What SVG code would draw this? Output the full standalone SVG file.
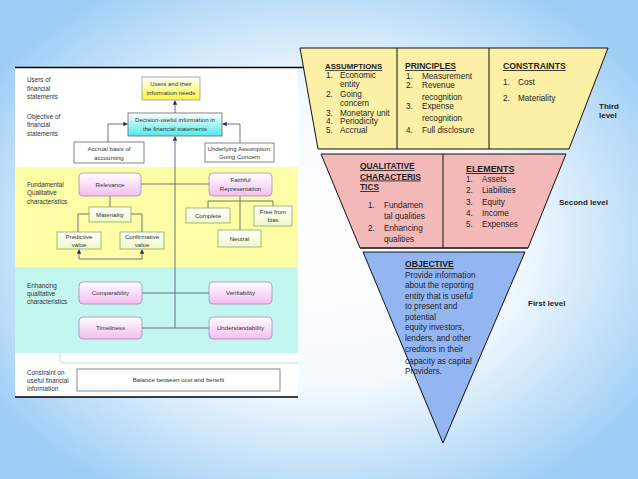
<svg xmlns="http://www.w3.org/2000/svg" width="638" height="479" viewBox="0 0 638 479">
<defs>
<radialGradient id="bg" cx="0.5" cy="0.5" r="0.62">
<stop offset="0" stop-color="#ffffff"/>
<stop offset="0.5" stop-color="#f4fafe"/>
<stop offset="1" stop-color="#9ccdf4"/>
</radialGradient>
<linearGradient id="gYel" x1="0" y1="0" x2="0" y2="1"><stop offset="0" stop-color="#ffffff"/><stop offset="1" stop-color="#f6f640"/></linearGradient>
<linearGradient id="gCyan" x1="0" y1="0" x2="0" y2="1"><stop offset="0" stop-color="#ffffff"/><stop offset="1" stop-color="#4fe9ec"/></linearGradient>
<linearGradient id="gPink" x1="0" y1="0" x2="0" y2="1"><stop offset="0" stop-color="#ffffff"/><stop offset="1" stop-color="#f2bdf0"/></linearGradient>
<linearGradient id="gGreen" x1="0" y1="0" x2="0" y2="1"><stop offset="0" stop-color="#ffffff"/><stop offset="1" stop-color="#f0f8c8"/></linearGradient>
<marker id="ah" viewBox="0 0 8 8" refX="7.5" refY="4" markerWidth="4.5" markerHeight="4.5" orient="auto" markerUnits="userSpaceOnUse">
<path d="M0,0 L8,4 L0,8 z" fill="#2a2a78"/>
</marker>
<style>
.lbl{font-family:"Liberation Sans",Arial,sans-serif;font-size:6.3px;fill:#333}
.bt{font-family:"Liberation Sans",Arial,sans-serif;font-size:6.1px;fill:#333;text-anchor:middle}
.plain{fill:#fff;stroke:#666;stroke-width:0.8}
.pinkb{fill:url(#gPink);stroke:#a98ab8;stroke-width:0.8}
.greenb{fill:url(#gGreen);stroke:#8caa55;stroke-width:0.8}
.con{fill:none;stroke:#4d5070;stroke-width:0.8}
.arr{marker-end:url(#ah)}
.pt{font-family:"Liberation Sans",Arial,sans-serif;font-size:8.2px;fill:#1e1e1e}
.ph{font-family:"Liberation Sans",Arial,sans-serif;font-weight:bold;fill:#1e1e1e;text-decoration:underline}
.lv{font-family:"Liberation Sans",Arial,sans-serif;font-weight:bold;font-size:8px;fill:#1e1e1e}
</style>
</defs>
<rect width="638" height="479" fill="url(#bg)"/>

<!-- Left panel -->
<g id="panel">
<rect x="15" y="67" width="283" height="330" fill="#ffffff"/>
<rect x="15" y="167" width="283" height="100" fill="#fdfda6"/>
<rect x="15" y="267" width="283" height="86" fill="#c2f6ee"/>
<path d="M60,353 L60,360 Q60,363 63,363 L298,363" fill="none" stroke="#c8c8c8" stroke-width="0.8"/>
<line x1="15" y1="67.5" x2="305" y2="67.5" stroke="#000" stroke-width="1.4"/>
<line x1="15" y1="397" x2="298" y2="397" stroke="#000" stroke-width="1.4"/>
<text class="lbl" x="27" y="82">Users of</text>
<text class="lbl" x="27" y="91">financial</text>
<text class="lbl" x="27" y="99">statements</text>
<text class="lbl" x="27" y="119">Objective of</text>
<text class="lbl" x="27" y="127">financial</text>
<text class="lbl" x="27" y="136">statements</text>
<text class="lbl" x="27" y="187">Fundamental</text>
<text class="lbl" x="27" y="195">Qualitative</text>
<text class="lbl" x="27" y="204">characteristics</text>
<text class="lbl" x="27" y="288">Enhancing</text>
<text class="lbl" x="27" y="296">qualitative</text>
<text class="lbl" x="27" y="304">characteristics</text>
<text class="lbl" x="27" y="375">Constraint on</text>
<text class="lbl" x="27" y="383">useful financial</text>
<text class="lbl" x="27" y="391">information</text>
</g>

<g id="connectors">
<line class="con arr" x1="175" y1="113" x2="175" y2="100.5"/>
<polyline class="con arr" points="108,142 108,124 127.5,124"/>
<polyline class="con arr" points="240,143 240,124 222.5,124"/>
<line class="con arr" x1="175" y1="328" x2="175" y2="136.5"/>
<line class="con" x1="141" y1="184" x2="209" y2="184"/>
<line class="con" x1="110" y1="196" x2="110" y2="207"/>
<polyline class="con" points="89,214 78,214 78,232"/>
<polyline class="con" points="131,214 142,214 142,232"/>
<line class="con" x1="79" y1="259" x2="142" y2="259"/>
<line class="con arr" x1="79" y1="259" x2="79" y2="249.5"/>
<line class="con arr" x1="142" y1="259" x2="142" y2="249.5"/>
<line class="con" x1="240" y1="196" x2="240" y2="230"/>
<polyline class="con" points="208,208 208,201 273,201 273,206"/>
<line class="con" x1="142" y1="293" x2="209" y2="293"/>
<line class="con" x1="142" y1="328" x2="209" y2="328"/>
</g>

<g id="n-users"><rect x="142" y="77" width="58" height="23" fill="url(#gYel)" stroke="#999" stroke-width="0.8"/>
<text class="bt" x="171" y="86">Users and their</text><text class="bt" x="171" y="95">information needs</text></g>
<g id="n-decision"><rect x="128" y="113" width="94" height="23" fill="url(#gCyan)" stroke="#666" stroke-width="0.8"/>
<text class="bt" x="175" y="122">Decision-useful information in</text><text class="bt" x="175" y="131">the financial statements</text></g>
<g id="n-accrual"><rect class="plain" x="74" y="142" width="70" height="21"/>
<text class="bt" x="109" y="151">Accrual basis of</text><text class="bt" x="109" y="159.5">accounting</text></g>
<g id="n-underlying"><rect class="plain" x="205" y="143" width="69" height="19"/>
<text class="bt" x="239.5" y="151">Underlying Assumption:</text><text class="bt" x="239.5" y="159">Going Concern</text></g>
<g id="n-relevance"><rect class="pinkb" x="79" y="173" width="62" height="23" rx="4"/>
<text class="bt" x="110" y="187">Relevance</text></g>
<g id="n-faithful"><rect class="pinkb" x="209" y="173" width="63" height="23" rx="4"/>
<text class="bt" x="240.5" y="182">Faithful</text><text class="bt" x="240.5" y="191">Representation</text></g>
<g id="n-materiality"><rect class="greenb" x="89" y="207" width="42" height="15"/>
<text class="bt" x="110" y="217">Materiality</text></g>
<g id="n-predictive"><rect class="greenb" x="57" y="232" width="44" height="17"/>
<text class="bt" x="79" y="239">Predictive</text><text class="bt" x="79" y="247">value</text></g>
<g id="n-confirmative"><rect class="greenb" x="120" y="232" width="44" height="17"/>
<text class="bt" x="142" y="239">Confirmative</text><text class="bt" x="142" y="247">value</text></g>
<g id="n-complete"><rect class="greenb" x="186" y="208" width="44" height="15"/>
<text class="bt" x="208" y="218">Complete</text></g>
<g id="n-freebias"><rect class="greenb" x="254" y="206" width="38" height="20"/>
<text class="bt" x="273" y="214">Free from</text><text class="bt" x="273" y="222">bias</text></g>
<g id="n-neutral"><rect class="greenb" x="218" y="230" width="43" height="17"/>
<text class="bt" x="239.5" y="241">Neutral</text></g>
<g id="n-comparability"><rect class="pinkb" x="79" y="282" width="63" height="22" rx="4"/>
<text class="bt" x="110.5" y="295">Comparability</text></g>
<g id="n-verifiability"><rect class="pinkb" x="209" y="282" width="63" height="22" rx="4"/>
<text class="bt" x="240.5" y="295">Verifiability</text></g>
<g id="n-timeliness"><rect class="pinkb" x="79" y="317" width="63" height="22" rx="4"/>
<text class="bt" x="110.5" y="330">Timeliness</text></g>
<g id="n-understandability"><rect class="pinkb" x="209" y="317" width="63" height="22" rx="4"/>
<text class="bt" x="240.5" y="330">Understandability</text></g>
<g id="n-balance"><rect class="plain" x="77" y="369" width="203" height="22"/>
<text class="bt" x="178.5" y="382">Balance between cost and benefit</text></g>

<!-- Pyramid -->
<g id="n-third">
<polygon points="300,48 608,48 569,149 318,149" fill="#fcefa6" stroke="#111" stroke-width="1"/>
<line x1="397" y1="48" x2="397" y2="149" stroke="#111" stroke-width="1"/>
<line x1="489" y1="48" x2="489" y2="149" stroke="#111" stroke-width="1"/>
<text class="ph" x="325" y="69" font-size="7.8">ASSUMPTIONS</text>
<text class="pt" font-size="7.8"><tspan x="326" y="78">1.</tspan><tspan x="340" y="78">Economic</tspan><tspan x="340" y="87">entity</tspan><tspan x="326" y="96.5">2.</tspan><tspan x="340" y="96.5">Going</tspan><tspan x="340" y="105.5">concern</tspan><tspan x="326" y="115.5">3.</tspan><tspan x="340" y="115.5">Monetary unit</tspan><tspan x="326" y="124">4.</tspan><tspan x="340" y="124">Periodicity</tspan><tspan x="326" y="133">5.</tspan><tspan x="340" y="133">Accrual</tspan></text>
<text class="ph" x="405" y="69" font-size="8.5">PRINCIPLES</text>
<text class="pt"><tspan x="406" y="78.5">1.</tspan><tspan x="422" y="78.5">Measurement</tspan><tspan x="406" y="87.5">2.</tspan><tspan x="422" y="87.5">Revenue</tspan><tspan x="422" y="100">recognition</tspan><tspan x="406" y="109">3.</tspan><tspan x="422" y="109">Expense</tspan><tspan x="422" y="121">recognition</tspan><tspan x="406" y="133">4.</tspan><tspan x="422" y="133">Full disclosure</tspan></text>
<text class="ph" x="503" y="69" font-size="8.7">CONSTRAINTS</text>
<text class="pt"><tspan x="503" y="85">1.</tspan><tspan x="518" y="85">Cost</tspan><tspan x="503" y="101">2.</tspan><tspan x="518" y="101">Materiality</tspan></text>
<text class="lv" x="599" y="109">Third</text>
<text class="lv" x="599" y="118">level</text>
</g>

<g id="n-second">
<polygon points="321,154 566,154 528,248 360,248" fill="#f3b9b9" stroke="#111" stroke-width="1"/>
<line x1="360" y1="248" x2="528" y2="248" stroke="#333" stroke-width="1.6"/>
<line x1="443" y1="154" x2="443" y2="248" stroke="#111" stroke-width="1"/>
<text class="ph" font-size="8.4"><tspan x="360" y="169">QUALITATIVE</tspan><tspan x="360" y="179.5">CHARACTERIS</tspan><tspan x="360" y="190">TICS</tspan></text>
<text class="pt"><tspan x="368" y="208">1.</tspan><tspan x="384" y="208">Fundamen</tspan><tspan x="384" y="218.5">tal qualities</tspan><tspan x="368" y="231">2.</tspan><tspan x="384" y="231">Enhancing</tspan><tspan x="384" y="242">qualities</tspan></text>
<text class="ph" x="466" y="172" font-size="8.9">ELEMENTS</text>
<text class="pt"><tspan x="466" y="182">1.</tspan><tspan x="482" y="182">Assets</tspan><tspan x="466" y="193">2.</tspan><tspan x="482" y="193">Liabilities</tspan><tspan x="466" y="205">3.</tspan><tspan x="482" y="205">Equity</tspan><tspan x="466" y="216">4.</tspan><tspan x="482" y="216">Income</tspan><tspan x="466" y="227">5.</tspan><tspan x="482" y="227">Expenses</tspan></text>
<text class="lv" x="559" y="205">Second level</text>
</g>

<g id="n-first">
<polygon points="363,252 525,252 443,443" fill="#93b6f3" stroke="#111" stroke-width="1"/>
<text class="ph" x="405" y="267" font-size="8.6">OBJECTIVE</text>
<text class="pt" font-size="8.6"><tspan x="405" y="277.5">Provide information</tspan><tspan x="405" y="288">about the reporting</tspan><tspan x="405" y="298.5">entity that is useful</tspan><tspan x="405" y="309">to present and</tspan><tspan x="405" y="319.5">potential</tspan><tspan x="405" y="330">equity investors,</tspan><tspan x="405" y="341">lenders, and other</tspan><tspan x="405" y="352">creditors in their</tspan><tspan x="405" y="363.5">capacity as capital</tspan><tspan x="405" y="374">Providers.</tspan></text>
<text class="lv" x="528" y="306">First level</text>
</g>
</svg>
